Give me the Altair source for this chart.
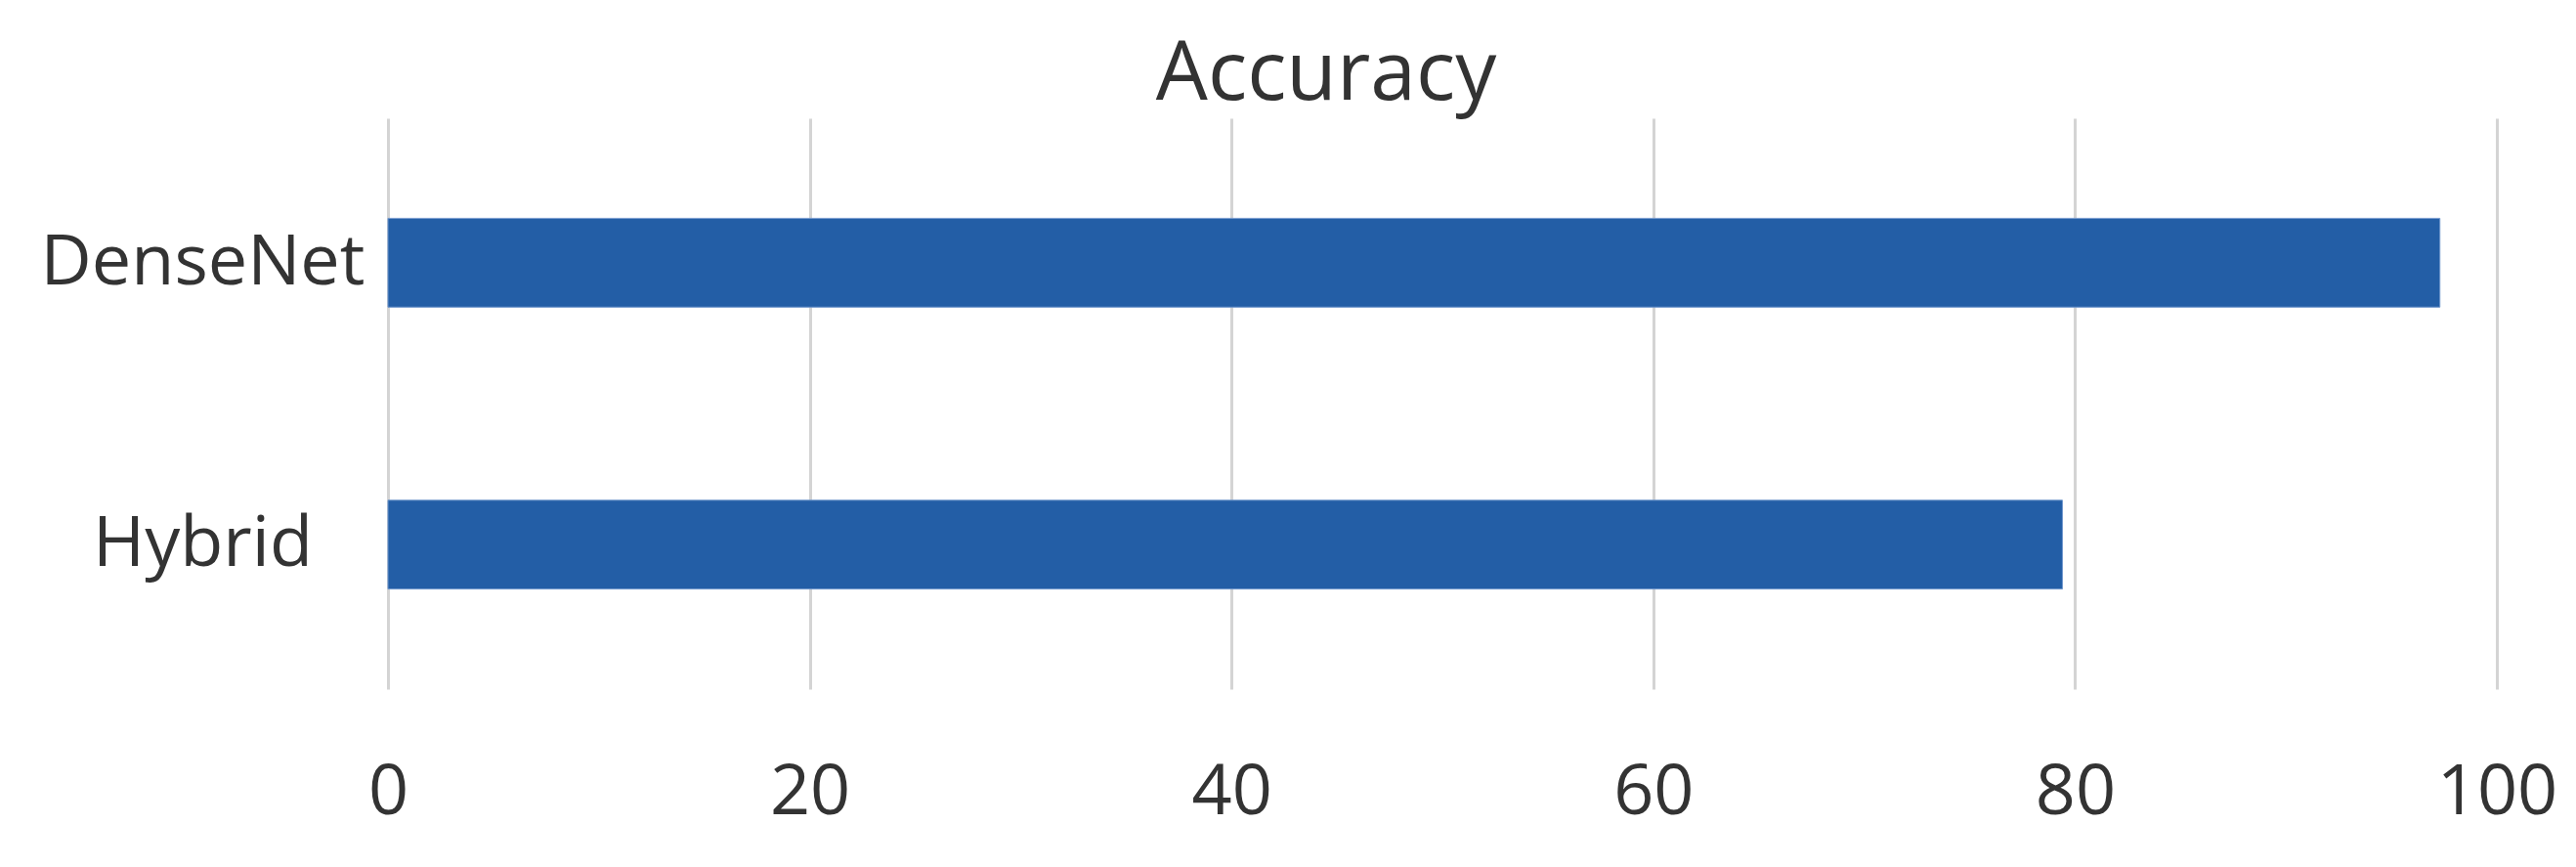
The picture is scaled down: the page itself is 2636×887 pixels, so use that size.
import altair as alt
import pandas as pd

models = ["DenseNet", "Hybrid"]
accuracy = [97.3, 79.4]
x_ticks = [0, 20, 40, 60, 80, 100]

df = pd.DataFrame({"model": models, "accuracy": accuracy})

FONT = "Open Sans"
TXT = "#333333"

chart = (
    alt.Chart(df)
    .mark_bar(color="#235EA6", stroke="#6f96cc", strokeWidth=1)
    .encode(
        x=alt.X(
            "accuracy:Q",
            scale=alt.Scale(domain=[0, 100], nice=False),
            axis=alt.Axis(
                values=x_ticks,
                title=None,
                grid=True,
                gridColor="#d4d4d4",
                gridWidth=3,
                domain=False,
                ticks=False,
                tickSize=0,
                labelFont=FONT,
                labelFontSize=72,
                labelColor=TXT,
                labelPadding=70,
                labelFlush=False,
            ),
        ),
        y=alt.Y(
            "model:N",
            sort=models,
            scale=alt.Scale(paddingInner=0.685, paddingOuter=0.355),
            axis=alt.Axis(
                title=None,
                domain=False,
                ticks=False,
                tickSize=0,
                grid=False,
                labelFont=FONT,
                labelFontSize=72,
                labelColor=TXT,
                labelAlign="center",
                labelBaseline="middle",
                labelPadding=190,
                labelLimit=1000,
            ),
        ),
    )
    .properties(
        width=2158,
        height=584,
        title=alt.TitleParams(
            "Accuracy",
            font=FONT,
            fontSize=84,
            fontWeight="normal",
            color=TXT,
            anchor="middle",
            baseline="alphabetic",
            offset=26,
            dx=-119,
            dy=91,
        ),
        autosize=alt.AutoSizeParams(type="none"),
        padding={"left": 389, "top": 113, "right": 73, "bottom": 174},
    )
    .configure_view(stroke=None)
)

chart.save("out.html", embed_options={"renderer": "svg", "actions": False})
